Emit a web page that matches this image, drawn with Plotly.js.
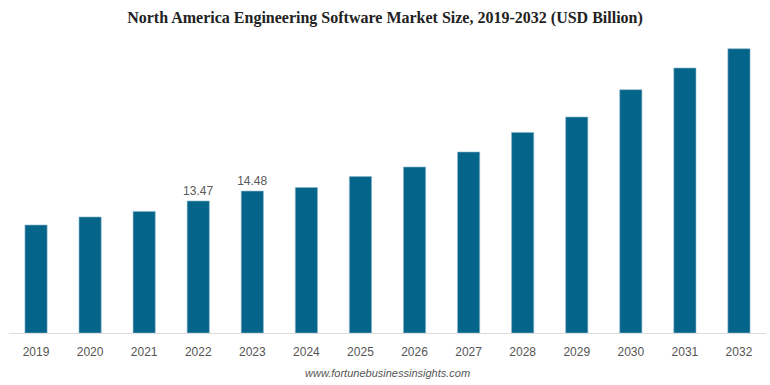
<!DOCTYPE html>
<html>
<head>
<meta charset="utf-8">
<script src="https://cdn.plot.ly/plotly-3.0.1.min.js"></script>
<style>html,body{margin:0;padding:0;background:#fff;}#chart{width:770px;height:385px;}</style>
</head>
<body>
<div id="chart"></div>
<script>
const years = ['2019','2020','2021','2022','2023','2024','2025','2026','2027','2028','2029','2030','2031','2032'];
const marketSize = [11.02, 11.84, 12.41, 13.47, 14.48, 14.84, 15.96, 16.94, 18.47, 20.47, 22.04, 24.83, 27.04, 29.01];
const labelYears = ['2022', '2023'];

const textLabels = years.map((y, i) => labelYears.includes(y) ? marketSize[i].toFixed(2) : '');

const trace = {
  type: 'bar',
  x: years,
  y: marketSize,
  text: textLabels,
  textposition: 'outside',
  constraintext: 'none',
  cliponaxis: false,
  textfont: {family: 'Liberation Sans, Arial, sans-serif', size: 12, color: '#595959'},
  marker: {color: '#05648a', line: {color: '#8ab6ca', width: 0.6}},
  hoverinfo: 'none'
};

const layout = {
  width: 770,
  height: 385,
  margin: {l: 9, r: 4, t: 40, b: 52},
  paper_bgcolor: '#ffffff',
  plot_bgcolor: '#ffffff',
  bargap: 0.59,
  showlegend: false,
  title: {
    text: '<b>North America Engineering Software Market Size, 2019-2032 (USD Billion)</b>',
    font: {family: 'Liberation Serif, Times New Roman, serif', size: 16, color: '#222222'},
    x: 0.5, xanchor: 'center', y: 0.955, yanchor: 'middle'
  },
  xaxis: {
    type: 'category',
    showline: true,
    linecolor: '#dcdcdc',
    linewidth: 1,
    showgrid: false,
    zeroline: false,
    ticks: '',
    ticklabelstandoff: 8,
    tickfont: {family: 'Liberation Sans, Arial, sans-serif', size: 12, color: '#555555'}
  },
  yaxis: {
    range: [0, 29.9],
    visible: false,
    showgrid: false,
    zeroline: false
  },
  annotations: [{
    text: '<i>www.fortunebusinessinsights.com</i>',
    xref: 'paper', yref: 'paper',
    x: 0.5, xanchor: 'center',
    y: -0.135, yanchor: 'middle',
    showarrow: false,
    font: {family: 'Liberation Sans, Arial, sans-serif', size: 11, color: '#555555'}
  }]
};

Plotly.newPlot('chart', [trace], layout, {displayModeBar: false, staticPlot: true});
</script>
</body>
</html>
